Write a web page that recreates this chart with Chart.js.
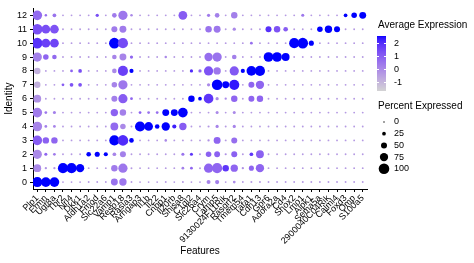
<!DOCTYPE html>
<html><head><meta charset="utf-8">
<script src="https://cdn.jsdelivr.net/npm/chart.js@4.4.0/dist/chart.umd.min.js"></script>
<style>html,body{margin:0;padding:0;background:#fff;overflow:hidden;}#wrap{width:474px;height:263px;}</style>
</head><body><div id="wrap"><canvas id="c" width="474" height="263"></canvas></div>
<script>
const features = ['Plp1','Ermn','Ugt8a','Tbr2','Nrl4','Dkk1','Aldh1a2','Fmod','Slc22a6','Vamp1','Resp18','Rasla3','Arhgap3','Il1b','Il22','Cnbp1','Il20rb','Shisa8','C1ql2','Slc26a4','Crym','Lamp5','9130024F11Rik','Rasgrf2','Tmem54','Tafa1','Cdh13','Gpr6','Adora2a','Cd4','Shox2','Lmo1','Alpk1','Sema5a','2900040C04Rik','Calml4','Foxd3','Omp','S100a5'];
const clusters = ['0','1','2','3','4','5','6','7','8','9','10','11','12'];

// Percent expressed, one array per cluster (39 features each)
const pct0  = [95,90,90, 4,4,4, 5,5,5, 60,65,5, 4,4,4, 5,4,6, 4,4,28, 30,4,15, 5,6,6, 5,5,5, 5,6,5, 5,5,5, 5,5,5];
const pct1  = [70,10,10, 95,95,75, 5,5,5, 55,85,6, 4,4,4, 5,5,15, 15,6,85, 95,55,65, 10,40,75, 5,5,5, 5,5,5, 5,5,5, 5,5,5];
const pct2  = [85,18,15, 5,5,5, 35,40,30, 25,50,5, 5,5,5, 5,5,18, 18,6,45, 48,8,50, 6,25,70, 5,5,5, 5,5,5, 5,5,5, 5,5,5];
const pct3  = [90,55,55, 5,5,5, 5,5,5, 95,100,35, 4,4,4, 12,5,6, 5,5,10, 60,6,50, 5,5,5, 5,5,5, 5,5,5, 5,5,5, 5,5,5];
const pct4  = [90,15,15, 5,5,5, 5,5,5, 70,45,6, 95,80,35, 75,30,65, 5,5,8, 20,6,20, 5,5,5, 5,5,5, 5,5,5, 5,5,5, 5,5,5];
const pct5  = [90,15,18, 5,5,5, 5,5,5, 65,55,5, 15,15,15, 60,60,90, 5,5,5, 18,5,18, 5,5,5, 5,5,5, 5,5,5, 5,5,5, 5,5,5];
const pct6  = [70,5,5, 5,5,5, 5,5,5, 50,85,15, 5,5,5, 5,5,5, 55,25,90, 20,10,55, 5,50,55, 5,5,5, 5,5,5, 5,5,5, 5,5,5];
const pct7  = [55,5,5, 15,25,25, 5,5,5, 45,85,5, 5,5,5, 5,5,5, 5,5,20, 100,60,95, 5,50,75, 5,5,5, 5,5,5, 5,5,5, 5,5,5];
const pct8  = [55,5,5, 5,15,25, 5,5,5, 35,95,30, 5,5,5, 5,5,5, 20,20,85, 65,5,85, 30,90,95, 5,5,5, 5,5,5, 5,5,5, 5,5,5];
const pct9  = [85,45,35, 5,5,5, 5,5,5, 35,60,20, 5,5,5, 12,5,5, 5,5,75, 85,5,35, 5,5,5, 90,90,70, 5,5,5, 5,5,5, 5,5,5];
const pct10 = [100,80,80, 5,5,5, 5,5,5, 100,95,5, 5,5,5, 5,5,5, 5,5,5, 5,5,5, 5,15,5, 5,5,5, 95,100,40, 5,5,5, 5,5,5];
const pct11 = [100,80,80, 5,5,5, 5,5,5, 50,60,5, 5,5,5, 5,5,5, 5,5,55, 60,5,20, 5,5,5, 50,55,35, 5,5,5, 45,65,50, 5,5,5];
const pct12 = [90,12,25, 5,5,5, 5,20,5, 35,85,12, 5,5,5, 5,5,80, 5,5,20, 35,5,55, 5,5,5, 5,5,5, 5,18,5, 5,5,5, 25,45,60];

// Average (scaled) expression, one array per cluster
const avg0  = [2.5,2.5,2.5, -0.4,-0.4,-0.4, -0.4,-0.4,-0.4, 0.5,0.4,-0.4, -0.4,-0.4,-0.4, -0.4,-0.4,-0.4, -0.4,-0.4,0.1, 0.2,-0.4,-0.1, -0.4,-0.4,-0.4, -0.4,-0.4,-0.4, -0.4,-0.4,-0.4, -0.4,-0.4,-0.4, -0.4,-0.4,-0.4];
const avg1  = [0.0,-0.2,-0.3, 2.5,2.5,2.5, -0.4,-0.4,-0.4, 0.3,0.4,-0.4, -0.4,-0.4,-0.4, -0.4,-0.4,0.2, 0.8,-0.4,0.8, 0.8,1.8,0.8, -0.2,0.8,0.8, -0.4,-0.4,-0.4, -0.4,-0.4,-0.4, -0.4,-0.4,-0.4, -0.4,-0.4,-0.4];
const avg2  = [0.0,0.8,0.3, -0.4,-0.4,-0.4, 2.5,2.5,2.5, 0.1,0.2,-0.4, -0.4,-0.4,-0.4, -0.4,-0.4,0.5, 1.8,-0.4,0.9, 0.9,-0.2,0.9, -0.4,1.8,0.9, -0.4,-0.4,-0.4, -0.4,-0.4,-0.4, -0.4,-0.4,-0.4, -0.4,-0.4,-0.4];
const avg3  = [1.0,0.9,0.8, -0.4,-0.4,-0.4, -0.4,-0.4,-0.4, 2.5,2.0,2.5, -0.4,-0.4,-0.4, 0.0,-0.4,-0.4, -0.4,-0.4,-0.2, 0.8,-0.4,0.6, -0.4,-0.4,-0.4, -0.4,-0.4,-0.4, -0.4,-0.4,-0.4, -0.4,-0.4,-0.4, -0.4,-0.4,-0.4];
const avg4  = [0.1,0.2,0.1, -0.4,-0.4,-0.4, -0.4,-0.4,-0.4, 0.7,0.0,-0.4, 2.5,2.5,2.5, 2.5,2.2,1.0, -0.4,-0.4,-0.3, 0.1,-0.4,0.1, -0.4,-0.4,-0.4, -0.4,-0.4,-0.4, -0.4,-0.4,-0.4, -0.4,-0.4,-0.4, -0.4,-0.4,-0.4];
const avg5  = [0.3,0.4,0.2, -0.4,-0.4,-0.4, -0.4,-0.4,-0.4, 0.9,0.2,-0.4, 0.9,0.5,0.6, 2.5,2.5,2.5, -0.4,-0.4,-0.4, 0.0,-0.4,0.0, -0.4,-0.4,-0.4, -0.4,-0.4,-0.4, -0.4,-0.4,-0.4, -0.4,-0.4,-0.4, -0.4,-0.4,-0.4];
const avg6  = [-0.2,-0.4,-0.4, -0.4,-0.4,-0.4, -0.4,-0.4,-0.4, 0.2,1.0,0.8, -0.4,-0.4,-0.4, -0.4,-0.4,-0.4, 2.5,2.5,1.8, 0.0,0.0,0.8, -0.4,0.8,0.8, -0.4,-0.4,-0.4, -0.4,-0.4,-0.4, -0.4,-0.4,-0.4, -0.4,-0.4,-0.4];
const avg7  = [-0.9,-0.4,-0.4, 1.0,1.2,1.2, -0.4,-0.4,-0.4, 0.1,0.4,-0.4, -0.4,-0.4,-0.4, -0.4,-0.4,-0.4, -0.4,-0.4,0.0, 2.5,2.5,2.3, -0.4,0.8,0.8, -0.4,-0.4,-0.4, -0.4,-0.4,-0.4, -0.4,-0.4,-0.4, -0.4,-0.4,-0.4];
const avg8  = [-0.9,-0.4,-0.4, -0.4,0.9,1.3, -0.4,-0.4,-0.4, 0.0,1.6,2.5, -0.4,-0.4,-0.4, -0.4,-0.4,-0.4, 2.0,0.8,1.2, 0.4,-0.4,1.1, 2.5,2.5,2.5, -0.4,-0.4,-0.4, -0.4,-0.4,-0.4, -0.4,-0.4,-0.4, -0.4,-0.4,-0.4];
const avg9  = [0.2,0.8,0.7, -0.4,-0.4,-0.4, -0.4,-0.4,-0.4, 0.1,0.1,0.8, -0.4,-0.4,-0.4, 0.0,-0.4,-0.4, -0.4,-0.4,0.6, 0.5,-0.4,0.2, -0.4,-0.4,-0.4, 2.5,2.5,2.5, -0.4,-0.4,-0.4, -0.4,-0.4,-0.4, -0.4,-0.4,-0.4];
const avg10 = [1.9,1.6,1.5, -0.4,-0.4,-0.4, -0.4,-0.4,-0.4, 2.5,1.4,-0.4, -0.4,-0.4,-0.4, -0.4,-0.4,-0.4, -0.4,-0.4,-0.4, -0.4,-0.4,-0.4, -0.4,0.6,-0.4, -0.4,-0.4,-0.4, 2.5,2.5,2.5, -0.4,-0.4,-0.4, -0.4,-0.4,-0.4];
const avg11 = [1.3,1.3,1.2, -0.4,-0.4,-0.4, -0.4,-0.4,-0.4, 0.3,0.3,-0.4, -0.4,-0.4,-0.4, -0.4,-0.4,-0.4, -0.4,-0.4,0.5, 0.4,-0.4,0.0, -0.4,-0.4,-0.4, 1.9,1.2,1.0, -0.4,-0.4,-0.4, 2.5,2.5,2.5, -0.4,-0.4,-0.4];
const avg12 = [0.7,0.6,0.5, -0.4,-0.4,-0.4, -0.4,1.3,-0.4, 0.3,0.4,0.0, -0.4,-0.4,-0.4, -0.4,-0.4,1.0, -0.4,-0.4,0.3, 0.2,-0.4,0.2, -0.4,-0.4,-0.4, -0.4,-0.4,-0.4, -0.4,0.4,-0.4, -0.4,-0.4,-0.4, 2.5,2.5,2.5];

const colorTicks = [2, 1, 0, -1];
const sizeBreaks = [0, 25, 50, 75, 100];

const percentRows = [pct0,pct1,pct2,pct3,pct4,pct5,pct6,pct7,pct8,pct9,pct10,pct11,pct12];
const avgRows = [avg0,avg1,avg2,avg3,avg4,avg5,avg6,avg7,avg8,avg9,avg10,avg11,avg12];
const colorMin = -1.7, colorMax = 2.5;
const FONT = "'Liberation Sans', Arial, Helvetica, sans-serif";

function radiusFor(p){ return 0.7 + 4.6 * p / 100; }

// Lab interpolation lightgrey -> blue (like ggplot scale_colour_gradient)
function lin(c){ c/=255; return c<=0.04045? c/12.92 : Math.pow((c+0.055)/1.055,2.4); }
function unlin(c){ c = c<=0.0031308? 12.92*c : 1.055*Math.pow(c,1/2.4)-0.055; return Math.max(0,Math.min(255,Math.round(c*255))); }
function rgb2lab(r,g,b){
  r=lin(r); g=lin(g); b=lin(b);
  let X=(0.4124*r+0.3576*g+0.1805*b)/0.95047, Y=(0.2126*r+0.7152*g+0.0722*b), Z=(0.0193*r+0.1192*g+0.9505*b)/1.08883;
  const f=t=> t>0.008856? Math.cbrt(t) : 7.787*t+16/116;
  const fx=f(X), fy=f(Y), fz=f(Z);
  return [116*fy-16, 500*(fx-fy), 200*(fy-fz)];
}
function lab2rgb(L,a,b){
  const fy=(L+16)/116, fx=fy+a/500, fz=fy-b/200;
  const fi=t=> t*t*t>0.008856? t*t*t : (t-16/116)/7.787;
  const X=fi(fx)*0.95047, Y=fi(fy), Z=fi(fz)*1.08883;
  const r= 3.2406*X-1.5372*Y-0.4986*Z, g=-0.9689*X+1.8758*Y+0.0415*Z, bb=0.0557*X-0.2040*Y+1.0570*Z;
  return [unlin(r),unlin(g),unlin(bb)];
}
const LOW = rgb2lab(211,211,211), HIGH = rgb2lab(0,0,255);
function colorFor(v){
  let t=(v-colorMin)/(colorMax-colorMin); t=Math.max(0,Math.min(1,t));
  const c=lab2rgb(LOW[0]+(HIGH[0]-LOW[0])*t, LOW[1]+(HIGH[1]-LOW[1])*t, LOW[2]+(HIGH[2]-LOW[2])*t);
  return 'rgb('+c[0]+','+c[1]+','+c[2]+')';
}

const points = [];
for (let r=0;r<clusters.length;r++) for (let c=0;c<features.length;c++)
  points.push({x:c, y:r, r:radiusFor(percentRows[r][c]), e:avgRows[r][c]});

const legendPlugin = {
  id:'dotLegend',
  afterDraw(chart){
    const ctx = chart.ctx; ctx.save();
    const lx = chart.chartArea.right + 11;
    ctx.fillStyle='#000'; ctx.textAlign='left'; ctx.textBaseline='alphabetic';
    ctx.font='10px '+FONT;
    ctx.fillText('Average Expression', lx, 28);
    const bx=lx-1, bw=9, by=36, bh=55;
    for (let i=0;i<bh;i++){ const v=colorMax-(i+0.5)/bh*(colorMax-colorMin); ctx.fillStyle=colorFor(v); ctx.fillRect(bx,by+i,bw,1); }
    ctx.font='9px '+FONT; ctx.textBaseline='middle';
    colorTicks.forEach(t=>{
      const y = Math.round(by+(colorMax-t)/(colorMax-colorMin)*bh)+0.5;
      ctx.strokeStyle='#fff'; ctx.lineWidth=1; ctx.beginPath();
      ctx.moveTo(bx,y); ctx.lineTo(bx+2,y); ctx.moveTo(bx+bw-2,y); ctx.lineTo(bx+bw,y); ctx.stroke();
      ctx.fillStyle='#000'; ctx.fillText(String(t), bx+bw+8, y);
    });
    ctx.font='10px '+FONT; ctx.textBaseline='alphabetic';
    ctx.fillText('Percent Expressed', lx, 109);
    ctx.font='9px '+FONT; ctx.textBaseline='middle';
    sizeBreaks.forEach((p,i)=>{
      const y = 122 + i*11.7;
      ctx.fillStyle='#000'; ctx.beginPath(); ctx.arc(lx+6, y, radiusFor(p), 0, Math.PI*2); ctx.fill();
      ctx.fillText(String(p), bx+bw+8, y);
    });
    ctx.restore();
  }
};

new Chart(document.getElementById('c'), {
  type:'bubble',
  data:{ datasets:[{ data:points, borderWidth:0,
    backgroundColor:(ctx)=> ctx.raw? colorFor(ctx.raw.e) : '#ccc' }]},
  options:{
    responsive:false, animation:false, devicePixelRatio:1,
    layout:{ padding:{ left:0, right:107, top:6, bottom:0 } },
    plugins:{ legend:{display:false}, tooltip:{enabled:false} },
    scales:{
      x:{ type:'linear', min:-0.5, max:38.5,
        afterBuildTicks:(axis)=>{ axis.ticks = features.map((_,i)=>({value:i})); },
        afterFit:(s)=>{ s.height = 74; },
        ticks:{ autoSkip:false, maxRotation:45, minRotation:45, padding:1, color:'#000',
          font:{ size:9, family:FONT }, callback:(v)=>features[v] },
        grid:{ drawOnChartArea:false, drawTicks:true, tickLength:3, color:'#000', tickWidth:1 },
        border:{ display:true, color:'#000', width:1 },
        title:{ display:true, text:'Features', color:'#000', font:{size:10, family:FONT}, padding:{bottom:6, top:0} }
      },
      y:{ type:'linear', min:-0.5, max:12.5,
        afterBuildTicks:(axis)=>{ axis.ticks = clusters.map((_,i)=>({value:i})); },
        afterFit:(s)=>{ s.width = 33; },
        ticks:{ padding:3, color:'#000', font:{ size:9, family:FONT }, callback:(v)=>clusters[v] },
        grid:{ drawOnChartArea:false, drawTicks:true, tickLength:3, color:'#000', tickWidth:1 },
        border:{ display:true, color:'#000', width:1 },
        title:{ display:true, text:'Identity', color:'#000', font:{size:10, family:FONT}, padding:{top:3, bottom:0} }
      }
    }
  },
  plugins:[legendPlugin]
});
</script></body></html>
